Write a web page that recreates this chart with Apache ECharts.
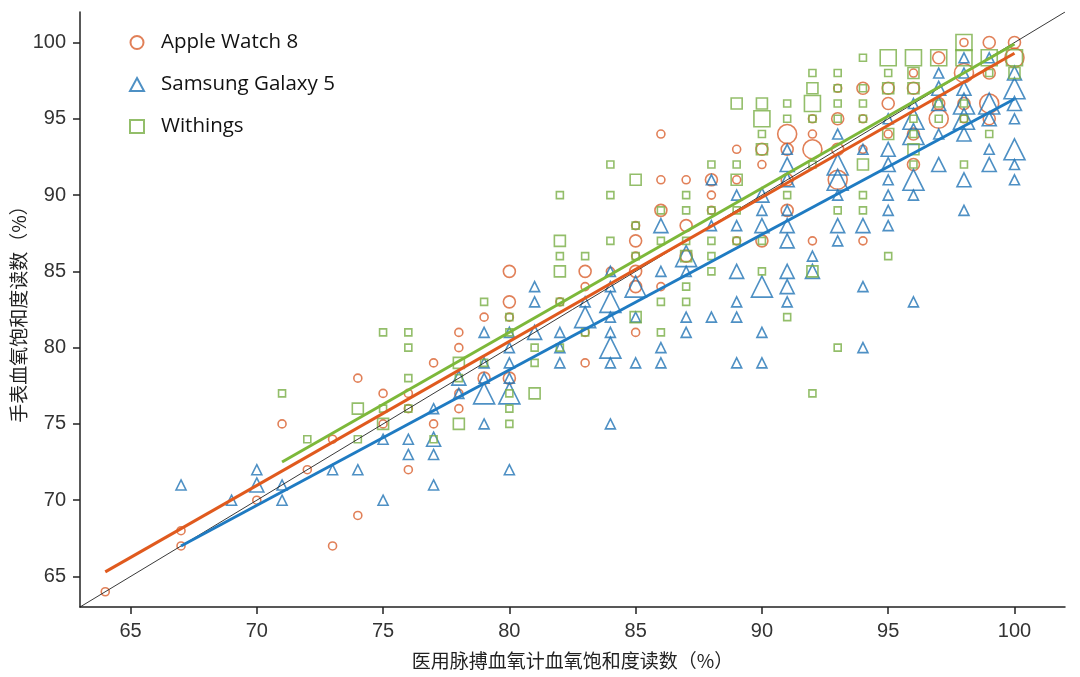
<!DOCTYPE html>
<html>
<head>
<meta charset="utf-8">
<script src="https://cdn.jsdelivr.net/npm/echarts@6/dist/echarts.min.js"></script>
<style>
  html, body { margin: 0; padding: 0; background: #fff; }
  #chart { width: 1080px; height: 677px; }
</style>
</head>
<body>
<div id="chart"></div>
<script>
// Datos: [medidor, reloj, nivel de tamaño (1-3)]
const apple = [
  [64,64,1],[67,68,1],[67,67,1],[70,70,1],[71,75,1],[72,72,1],[73,74,1],[73,67,1],[74,78,1],[74,69,1],
  [75,77,1],[75,75,1],[76,77,1],[76,76,1],[76,72,1],[77,79,1],[77,75,1],[78,81,1],[78,80,1],[78,77,1],
  [78,76,1],[79,82,1],[79,78,2],[80,85,2],[80,83,2],[80,82,1],[80,78,2],[82,83,1],[83,85,2],[83,84,1],
  [83,81,1],[83,79,1],[84,85,1],[85,88,1],[85,87,2],[85,86,1],[85,85,2],[85,84,2],[85,81,1],[86,94,1],
  [86,91,1],[86,89,2],[86,84,1],[87,91,1],[87,88,2],[87,86,2],[88,91,2],[88,90,1],[88,89,1],[89,93,1],
  [89,91,1],[89,87,1],[90,93,2],[90,92,1],[90,87,2],[91,94,3],[91,93,2],[91,91,2],[91,89,2],[92,95,1],
  [92,94,1],[92,93,3],[92,87,1],[93,97,1],[93,95,2],[93,93,2],[93,91,3],[94,97,2],[94,95,1],[94,93,1],
  [94,87,1],[95,97,2],[95,96,2],[95,94,1],[96,98,1],[96,97,2],[96,94,2],[96,92,2],[97,99,2],[97,96,2],
  [97,95,3],[98,100,1],[98,98,3],[98,96,2],[98,95,1],[99,100,2],[99,98,2],[99,96,3],[99,95,2],
  [100,100,2],[100,99,3]
];

const samsung = [
  [67,71,1],[69,70,1],[70,72,1],[70,71,2],[71,71,1],[71,70,1],[73,72,1],[74,72,1],[75,74,1],[75,70,1],
  [76,74,1],[76,73,1],[77,76,1],[77,74,2],[77,73,1],[77,71,1],[78,78,2],[78,77,1],[79,81,1],[79,79,1],
  [79,78,1],[79,77,3],[79,75,1],[80,81,1],[80,80,1],[80,79,1],[80,78,1],[80,77,3],[80,72,1],[81,84,1],
  [81,83,1],[81,81,2],[82,81,1],[82,80,1],[82,79,1],[83,83,1],[83,82,3],[84,85,1],[84,84,1],[84,83,3],
  [84,82,1],[84,81,1],[84,80,3],[84,79,1],[84,75,1],[85,84,3],[85,82,1],[85,79,1],[86,88,2],[86,85,1],
  [86,80,1],[86,79,1],[87,86,3],[87,85,1],[87,82,1],[87,81,1],[88,91,1],[88,88,1],[88,82,1],[89,90,1],
  [89,88,1],[89,85,2],[89,83,1],[89,82,1],[89,79,1],[90,90,2],[90,89,1],[90,88,2],[90,84,3],[90,81,1],
  [90,79,1],[91,93,1],[91,92,2],[91,91,2],[91,89,1],[91,88,2],[91,87,2],[91,85,2],[91,84,2],[91,83,1],
  [92,86,1],[92,85,2],[93,94,1],[93,92,3],[93,91,3],[93,90,1],[93,88,2],[93,87,1],[94,93,1],[94,88,2],
  [94,84,1],[94,80,1],[95,95,1],[95,93,2],[95,92,2],[95,91,1],[95,90,1],[95,89,1],[95,88,1],[96,96,1],
  [96,95,3],[96,94,3],[96,91,3],[96,90,1],[96,83,1],[97,98,1],[97,97,2],[97,96,2],[97,94,1],[97,92,2],
  [98,99,1],[98,98,1],[98,97,2],[98,96,3],[98,95,3],[98,94,2],[98,91,2],[98,89,1],[99,99,1],[99,96,3],
  [99,95,2],[99,93,1],[99,92,2],[100,98,2],[100,97,3],[100,96,2],[100,95,1],[100,93,3],[100,92,1],
  [100,91,1]
];

const withings = [
  [71,77,1],[72,74,1],[74,76,2],[74,74,1],[75,81,1],[75,76,1],[75,75,2],[76,81,1],[76,80,1],[76,78,1],
  [76,76,1],[77,74,1],[78,79,2],[78,78,1],[78,75,2],[79,83,1],[79,79,1],[80,82,1],[80,81,1],[80,77,1],
  [80,76,1],[80,75,1],[81,80,1],[81,77,2],[81,79,1],[82,90,1],[82,87,2],[82,86,1],[82,85,2],[82,83,1],
  [82,80,1],[83,86,1],[83,81,1],[84,92,1],[84,90,1],[84,87,1],[85,91,2],[85,88,1],[85,86,1],[85,82,2],
  [86,89,1],[86,87,1],[86,83,1],[86,81,1],[87,90,1],[87,89,1],[87,87,1],[87,86,2],[87,84,1],[87,83,1],
  [88,92,1],[88,89,1],[88,87,1],[88,86,1],[88,85,1],[89,96,2],[89,92,1],[89,91,2],[89,89,1],[89,87,1],
  [90,96,2],[90,95,3],[90,94,1],[90,93,2],[90,87,1],[90,85,1],[91,96,1],[91,95,1],[91,90,1],[91,82,1],
  [92,98,1],[92,97,2],[92,96,3],[92,95,1],[92,92,1],[92,85,2],[92,77,1],[93,98,1],[93,97,1],[93,96,1],
  [93,95,1],[93,89,1],[93,80,1],[94,99,1],[94,97,1],[94,96,1],[94,95,1],[94,92,2],[94,90,1],[94,89,1],
  [95,99,3],[95,98,1],[95,97,2],[95,94,2],[95,86,1],[96,99,3],[96,98,2],[96,97,2],[96,95,1],[96,94,1],
  [96,93,2],[96,92,1],[97,99,3],[97,96,1],[97,95,1],[98,100,3],[98,99,3],[98,96,1],[98,95,1],[98,92,1],
  [99,99,3],[99,98,1],[99,94,1],[100,99,3],[100,98,2]
];

// Rectas de regresión (extremos) y línea de identidad
const fitApple = [[64, 65.3], [100, 99.3]];
const fitSamsung = [[67, 67.0], [100, 96.3]];
const fitWithings = [[71, 72.5], [100, 99.9]];
const identidad = [[63, 63], [102, 102]];

const ticks = [65, 70, 75, 80, 85, 90, 95, 100];

const colores = { apple: '#D9602E', samsung: '#2274B5', withings: '#78AE45' };
const colorLineas = { apple: '#E05A1E', samsung: '#1F7BC2', withings: '#7DB83A' };

const chart = echarts.init(document.getElementById('chart'));

function serieDispersion(nombre, datos, simbolo, tamanos, color) {
  return {
    name: nombre,
    type: 'scatter',
    data: datos,
    symbol: simbolo,
    symbolSize: d => tamanos[d[2] - 1],
    itemStyle: { color: 'rgba(255,255,255,0)', borderColor: color, borderWidth: 1.6 },
    z: 2
  };
}

function serieRecta(datos, color, ancho) {
  return {
    type: 'line',
    data: datos,
    symbol: 'none',
    silent: true,
    lineStyle: { color: color, width: ancho },
    z: 3
  };
}

const ejeComun = {
  min: 63,
  max: 102,
  axisLine: { show: true, lineStyle: { color: '#222', width: 1.5 } },
  axisTick: { show: true, customValues: ticks, length: 7, lineStyle: { color: '#222', width: 1.5 } },
  axisLabel: {
    customValues: ticks, color: '#333', fontSize: 20, margin: 14,
    fontFamily: '"Liberation Sans", Arial, sans-serif'
  },
  splitLine: { show: false },
  nameLocation: 'middle',
  nameMoveOverlap: false,
  nameTextStyle: { fontFamily: 'Noto Sans CJK SC', fontSize: 19, color: '#222' }
};

const option = {
  backgroundColor: '#fff',
  animation: false,
  grid: { left: 80, right: 15, top: 12, bottom: 70, containLabel: false, outerBoundsMode: 'none' },
  legend: {
    data: ['Apple Watch 8', 'Samsung Galaxy 5', 'Withings'],
    orient: 'vertical',
    left: 124,
    top: 27,
    itemGap: 21,
    itemWidth: 14,
    itemHeight: 13,
    textStyle: { fontFamily: 'Open Sans', fontSize: 20.5, color: '#111', padding: [0, 0, 0, 12] }
  },
  xAxis: Object.assign({}, ejeComun, {
    type: 'value',
    name: '医用脉搏血氧计血氧饱和度读数（%）',
    nameGap: 44
  }),
  yAxis: Object.assign({}, ejeComun, {
    type: 'value',
    name: '手表血氧饱和度读数（%）',
    nameGap: 52
  }),
  series: [
    serieDispersion('Apple Watch 8', apple, 'circle', [8, 12, 19], colores.apple),
    serieDispersion('Samsung Galaxy 5', samsung, 'triangle', [10, 14, 21], colores.samsung),
    serieDispersion('Withings', withings, 'rect', [7, 11, 16], colores.withings),
    serieRecta(identidad, '#222', 0.9),
    serieRecta(fitSamsung, colorLineas.samsung, 3),
    serieRecta(fitApple, colorLineas.apple, 3),
    serieRecta(fitWithings, colorLineas.withings, 3)
  ]
};

chart.setOption(option);
</script>
</body>
</html>
